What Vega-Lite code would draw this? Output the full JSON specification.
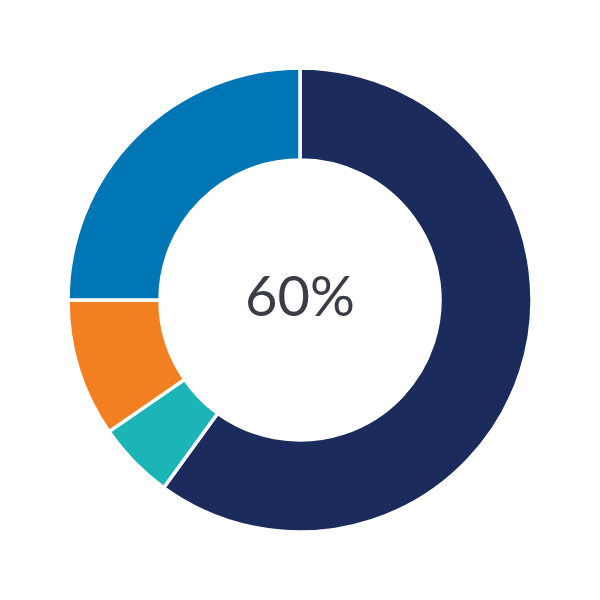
{
  "$schema": "https://vega.github.io/schema/vega-lite/v6.json",
  "width": 600,
  "height": 600,
  "padding": 0,
  "autosize": {"type": "fit", "contains": "padding"},
  "background": "white",
  "data": {
    "values": [
      {"segment": "A", "value": 60, "rank": 1},
      {"segment": "B", "value": 5.4, "rank": 2},
      {"segment": "C", "value": 9.6, "rank": 3},
      {"segment": "D", "value": 25, "rank": 4}
    ]
  },
  "layer": [
    {
      "mark": {"type": "arc", "outerRadius": 232, "innerRadius": 140, "stroke": "white", "strokeWidth": 3.5},
      "encoding": {
        "theta": {"field": "value", "type": "quantitative", "stack": true},
        "order": {"field": "rank", "type": "quantitative"},
        "color": {
          "field": "segment",
          "type": "nominal",
          "legend": null,
          "scale": {
            "domain": ["A", "B", "C", "D"],
            "range": ["#1b2b5b", "#1bb5b8", "#f28021", "#0077b4"]
          }
        }
      }
    },
    {
      "data": {"values": [{"label": "60%"}]},
      "mark": {"type": "text", "font": "Lato", "fontWeight": 400, "fontSize": 56, "color": "#3a3d46", "align": "center", "baseline": "middle", "dy": -1},
      "encoding": {"text": {"field": "label"}}
    }
  ],
  "config": {"view": {"stroke": null}}
}
